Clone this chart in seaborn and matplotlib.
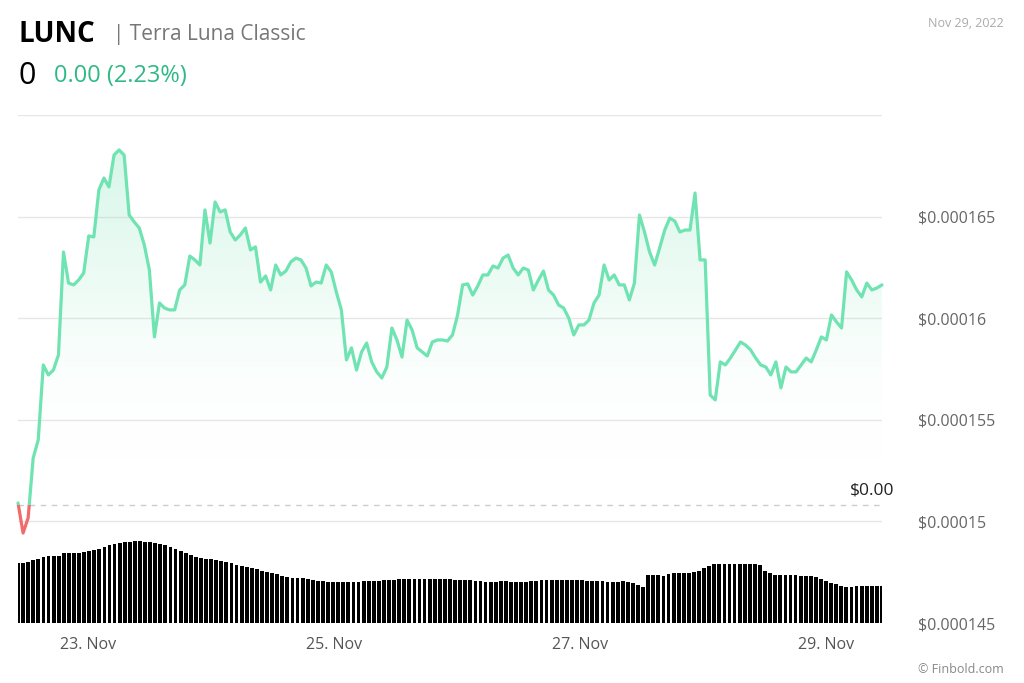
import numpy as np, pandas as pd
import matplotlib
matplotlib.use("Agg")
import matplotlib.pyplot as plt
import matplotlib.dates as mdates
from matplotlib.patches import Rectangle, Polygon
from matplotlib.ticker import FixedLocator
import seaborn as sns

prices_u = [150.91,149.43,150.17,153.12,154.01,157.70,157.21,157.45,158.19,163.26,161.73,161.64,161.88,162.23,164.05,164.0,
166.31,166.9,166.46,168.03,168.28,168.03,165.08,164.74,164.44,163.6,162.37,159.08,160.75,160.5,160.41,160.41,161.39,161.64,
163.06,162.87,162.62,165.33,163.7,165.72,165.23,165.33,164.24,163.85,164.1,164.44,163.36,163.51,161.78,162.08,161.39,162.62,
162.13,162.32,162.77,162.96,162.87,162.47,161.59,161.78,161.73,162.62,162.28,161.29,160.41,157.95,158.54,157.45,158.34,158.78,
157.85,157.36,157.06,157.6,159.52,158.93,158.09,159.91,159.42,158.54,158.34,158.14,158.83,158.93,158.93,158.88,159.18,160.16,
161.64,161.69,161.14,161.59,162.13,162.13,162.57,162.47,162.96,163.11,162.47,162.13,162.47,162.37,161.39,161.88,162.32,161.39,
161.14,160.65,160.5,160.01,159.18,159.67,159.67,159.91,160.75,161.14,162.62,161.88,162.13,161.64,161.64,160.9,161.73,165.08,
164.24,163.26,162.62,163.46,164.34,164.93,164.78,164.24,164.34,164.34,166.16,162.87,162.87,156.22,155.98,157.85,157.70,158.04,
158.44,158.83,158.68,158.44,158.04,157.70,157.6,157.21,157.85,156.57,157.6,157.36,157.36,157.70,158.04,157.85,158.44,159.08,
158.93,160.16,159.82,159.52,162.28,161.88,161.39,161.05,161.73,161.39,161.49,161.64]
volumes = [60,60,61,63,64,66,67,67,67, 70,70,70,70,71,72,73,74, 76,78,79,80,81,81,82,82,81,81,
80,79,78,76,74,72,70,68,66,65,64,64,63,62,61,60, 58,57,56,55,54,52,51,50,49,47, 46,45,45,45,44,43,42,42,
41,41,41,41,41,41,41,42, 42,42,42,43,43,43,44,44, 44,44,44,44,44,44,44,44,44,43,43,43,43,42,
42,41,41,41,42,42,41,41,41,41,42,42, 43,43,43,43,43,43,43,43,43,42,42,42,42,41,41,41,42,41,40,38,36,
48,48,48,47,49,50,50,50,50,51,52, 55,57,59,59,59,59,59,59,59,59,59,58,
52,50,48,48,48,48,48,47,47,47,46,44,42, 40,39,37,36,36,37,37,37,37,37,37]
base_u = 150.82
ytick_u = [145, 150, 155, 160, 165]
ytick_labels = ["$0.000145", "$0.00015", "$0.000155", "$0.00016", "$0.000165"]
xtick_dates = ["2022-11-23", "2022-11-25", "2022-11-27", "2022-11-29"]
xtick_labels = ["23. Nov", "25. Nov", "27. Nov", "29. Nov"]

start, end = pd.Timestamp("2022-11-22 10:20"), pd.Timestamp("2022-11-29 10:55")
t = pd.date_range(start, end, periods=len(prices_u))
tv = pd.date_range(start, end, periods=len(volumes))
x = mdates.date2num(t); xv = mdates.date2num(tv)
p = np.array(prices_u)

sns.set_theme(style="white")
plt.rcParams['font.family'] = ['Open Sans', 'DejaVu Sans']
fig = plt.figure(figsize=(10.24, 6.83), dpi=100)
ax = fig.add_axes([0.0176, 0.0878, 0.8437, 0.7438])
ax.set_xlim(x[0], x[-1]); ax.set_ylim(145, 170)
for s in ax.spines.values(): s.set_visible(False)
for yv in ytick_u + [170]:
    ax.axhline(yv, color="#e6e6e6", lw=1, zorder=0)

top = np.maximum(p, base_u)
verts = np.vstack([np.column_stack([x, top]), [[x[-1], base_u], [x[0], base_u]]])
clip = Polygon(verts, closed=True, transform=ax.transData)
grad = np.linspace(0, 1, 256).reshape(-1, 1)
cmap = matplotlib.colors.LinearSegmentedColormap.from_list("g", [(1,1,1,0), (0.5,0.9,0.72,0.12), (0.45,0.88,0.7,0.3)])
im = ax.imshow(grad, extent=[x[0], x[-1], base_u+2, 169], origin="lower", aspect="auto", cmap=cmap, zorder=1)
im.set_clip_path(clip)

df = pd.DataFrame({"t": x, "p": p})
sns.lineplot(data=df, x="t", y="p", ax=ax, color="#6fe3b1", lw=2.3, zorder=3)
ax.lines[-1].set_clip_path(Rectangle((x[0]-1, base_u), 10, 30, transform=ax.transData))
sns.lineplot(data=df, x="t", y="p", ax=ax, color="#f26b6b", lw=2.3, zorder=3)
ax.lines[-1].set_clip_path(Rectangle((x[0]-1, 140), 10, base_u-140, transform=ax.transData))
ax.axhline(base_u, color="#cccccc", lw=1, ls=(0, (4, 4)), zorder=2)
ax.text(x[-1]+0.1, base_u+0.3, "$0.00", fontsize=12.5, color="#222222", ha="right", va="bottom")
ax.set_xlabel(""); ax.set_ylabel("")

ax2 = ax.twinx()
ax2.bar(xv, volumes, width=(xv[1]-xv[0])*0.75, color="black", lw=0, zorder=4)
ax2.set_ylim(0, 508); ax2.set_yticks([])
for s in ax2.spines.values(): s.set_visible(False)
ax2.set_xlim(x[0], x[-1])

ax.yaxis.set_major_locator(FixedLocator(ytick_u))
ax.set_yticklabels(ytick_labels)
ax.yaxis.tick_right()
ax.tick_params(axis="y", length=0, pad=26, labelsize=11.5, labelcolor="#666666")
ax.xaxis.set_major_locator(FixedLocator(mdates.date2num(pd.to_datetime(xtick_dates))))
ax.set_xticklabels(xtick_labels)
ax.tick_params(axis="x", length=0, pad=10, labelsize=11.5, labelcolor="#555555")

fig.text(0.0176, 0.95, "LUNC", fontsize=20, fontweight="bold", color="black", va="center")
fig.text(0.11, 0.95, "| Terra Luna Classic", fontsize=15, color="#777777", va="center")
fig.text(0.0176, 0.888, "0", fontsize=22, color="black", va="center")
fig.text(0.053, 0.888, "0.00 (2.23%)", fontsize=17, color="#30b987", va="center")
fig.text(0.98, 0.966, "Nov 29, 2022", fontsize=9, color="#aaaaaa", ha="right", va="center")
fig.text(0.98, 0.02, "© Finbold.com", fontsize=9, color="#888888", ha="right", va="center")
fig.savefig("out.png", dpi=100)
